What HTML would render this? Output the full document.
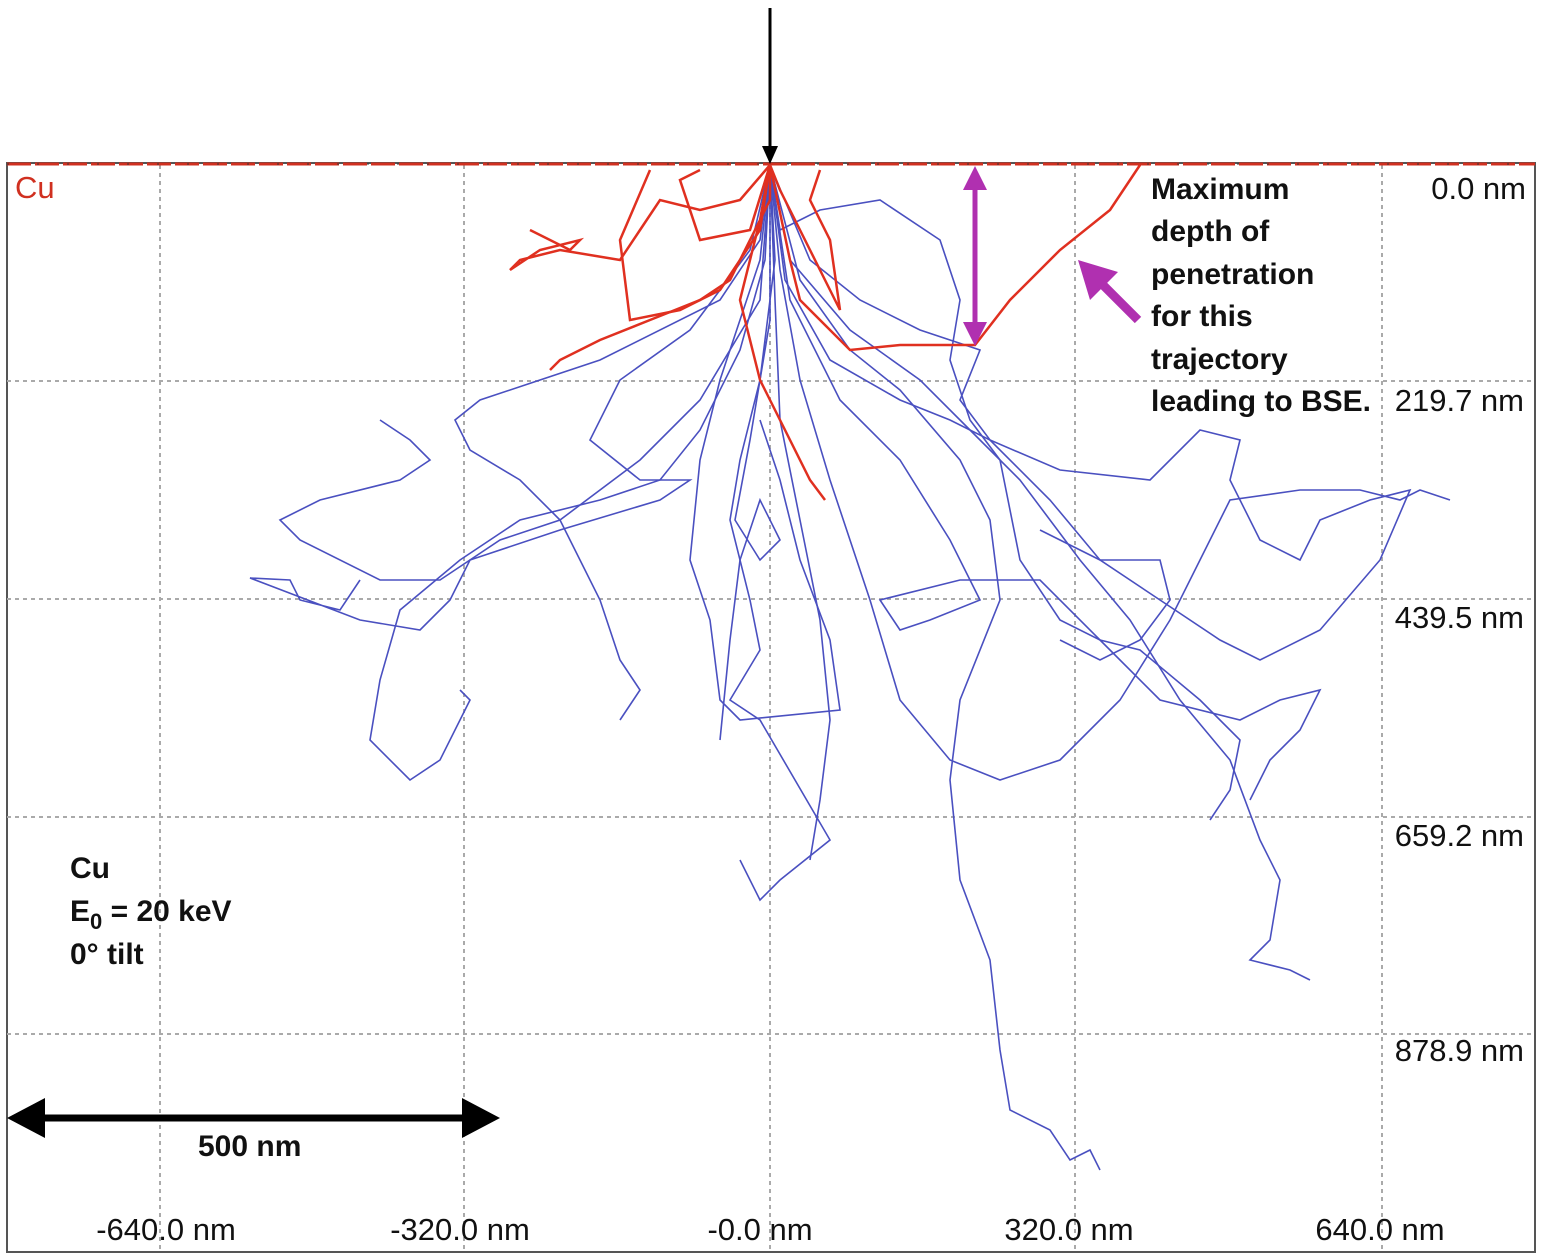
<!DOCTYPE html>
<html><head><meta charset="utf-8"><style>
html,body{margin:0;padding:0;background:#fff;}
svg{display:block;font-family:"Liberation Sans",sans-serif;}
.b{font-weight:bold;font-size:30px;fill:#111;}
.t{font-size:31px;fill:#111;}
</style></head><body>
<svg width="1546" height="1259" viewBox="0 0 1546 1259">
<rect x="7" y="163" width="1528" height="1089" fill="#fff" stroke="#555" stroke-width="2"/>
<g stroke="#aaa" stroke-width="2" stroke-dasharray="4,4" fill="none">
<line x1="160" y1="165" x2="160" y2="1252"/><line x1="464" y1="165" x2="464" y2="1252"/>
<line x1="770" y1="165" x2="770" y2="1252"/><line x1="1075" y1="165" x2="1075" y2="1252"/>
<line x1="1382" y1="165" x2="1382" y2="1252"/>
<line x1="7" y1="381" x2="1535" y2="381"/><line x1="7" y1="599" x2="1535" y2="599"/>
<line x1="7" y1="817" x2="1535" y2="817"/><line x1="7" y1="1034" x2="1535" y2="1034"/>
</g>
<line x1="7" y1="164" x2="1535" y2="164" stroke="#d03020" stroke-width="3" stroke-dasharray="24,4"/>
<line x1="7" y1="164" x2="1535" y2="164" stroke="#333" stroke-width="1" stroke-dasharray="2,28"/>
<g fill="none" stroke="#4a50c0" stroke-width="1.6">
<polyline points="770,165 760,240 720,300 600,360 480,400 455,420 470,450 520,480 560,520 580,560 600,600 620,660 640,690 620,720"/>
<polyline points="770,165 750,250 690,330 620,380 590,440 640,480 690,480 660,500 560,530 470,560 450,600 420,630 360,620 250,578 290,580 300,600 340,610 360,580"/>
<polyline points="770,165 765,260 740,350 700,430 660,480 600,500 520,520 460,560 400,610 380,680 370,740 410,780 440,760 470,700 460,690"/>
<polyline points="770,165 775,260 760,380 740,460 730,520 750,600 760,650 730,700 760,720 830,840 780,880 760,900 740,860"/>
<polyline points="770,165 780,270 800,380 830,480 870,600 900,700 950,760 1000,780 1060,760 1120,700 1170,620 1200,560 1230,500 1300,490 1360,490 1400,500 1420,490 1450,500"/>
<polyline points="770,165 790,260 850,330 920,380 970,430 1020,480 1080,560 1130,620 1180,700 1230,760 1260,840 1280,880 1270,940 1250,960 1290,970 1310,980"/>
<polyline points="770,165 800,280 850,350 900,390 960,460 990,520 1000,600 960,700 950,780 960,880 990,960 1000,1050 1010,1110 1050,1130 1070,1160 1090,1150 1100,1170"/>
<polyline points="770,165 810,260 860,300 920,330 980,350 960,400 990,440 1060,470 1150,480 1200,430 1240,440 1230,480 1260,540 1300,560 1320,520 1370,500 1410,490 1380,560 1320,630 1260,660 1220,640 1160,600 1100,560 1040,530"/>
<polyline points="770,165 780,230 820,210 880,200 940,240 960,300 950,360 970,420 1000,460 1020,560 1060,620 1100,640 1140,650 1200,700 1240,740 1230,790 1210,820"/>
<polyline points="770,165 760,260 720,380 700,460 690,560 710,620 720,700 740,720 840,710 830,640 800,560 780,480 760,420"/>
<polyline points="770,165 790,300 840,400 900,460 950,540 980,600 930,620 900,630 880,600 960,580 1040,580 1100,640 1160,700 1240,720 1280,700 1320,690 1300,730 1270,760 1250,800"/>
<polyline points="770,165 775,300 780,420 800,520 820,620 830,720 820,800 810,860"/>
<polyline points="770,165 760,300 700,400 640,460 560,520 500,540 440,580 380,580 300,540 280,520 320,500 400,480 430,460 410,440 380,420"/>
<polyline points="770,165 785,280 830,360 900,400 950,420 990,440 1050,500 1100,560 1160,560 1170,600 1140,640 1100,660 1060,640"/>
<polyline points="770,165 770,320 750,440 735,520 760,560 780,540 760,500 740,560 730,640 720,740"/>
</g>
<g fill="none" stroke="#e03020" stroke-width="2.5">
<polyline points="770,165 740,200 700,210 660,200 640,230 620,260 560,250 520,260 510,270 540,250 580,240 570,250 530,230"/>
<polyline points="770,165 760,230 720,290 680,310 630,320 620,240 650,170"/>
<polyline points="770,165 770,200 730,280 700,300 650,320 600,340 560,360 550,370"/>
<polyline points="770,165 790,260 800,300 820,320 850,350 900,345 950,345 975,345 1010,300 1060,250 1110,210 1140,165"/>
<polyline points="770,165 760,220 740,300 760,380 790,440 810,480 825,500"/>
<polyline points="770,165 780,190 800,230 820,270 840,310 830,240 810,200 820,170"/>
<polyline points="770,165 750,230 700,240 680,180 700,170"/>
</g>
<line x1="770" y1="8" x2="770" y2="150" stroke="#000" stroke-width="3"/>
<polygon points="762,146 778,146 770,164" fill="#000"/>
<line x1="975" y1="185" x2="975" y2="325" stroke="#b030b0" stroke-width="5"/>
<polygon points="963,190 987,190 975,166" fill="#b030b0"/>
<polygon points="963,322 987,322 975,346" fill="#b030b0"/>
<line x1="1138" y1="320" x2="1100" y2="282" stroke="#b030b0" stroke-width="9"/>
<polygon points="1078,260 1118,272 1090,300" fill="#b030b0"/>
<line x1="30" y1="1118" x2="480" y2="1118" stroke="#000" stroke-width="7"/>
<polygon points="7,1118 45,1098 45,1138" fill="#000"/>
<polygon points="500,1118 462,1098 462,1138" fill="#000"/>
<text x="15" y="198" font-size="31" fill="#d03020">Cu</text>
<text class="b" x="1151" y="199">Maximum</text>
<text class="b" x="1151" y="241">depth of</text>
<text class="b" x="1151" y="284">penetration</text>
<text class="b" x="1151" y="326">for this</text>
<text class="b" x="1151" y="369">trajectory</text>
<text class="b" x="1151" y="411">leading to BSE.</text>
<text class="t" x="1526" y="199" text-anchor="end">0.0 nm</text>
<text class="t" x="1524" y="411" text-anchor="end">219.7 nm</text>
<text class="t" x="1524" y="628" text-anchor="end">439.5 nm</text>
<text class="t" x="1524" y="846" text-anchor="end">659.2 nm</text>
<text class="t" x="1524" y="1061" text-anchor="end">878.9 nm</text>
<text class="b" x="70" y="878">Cu</text>
<text class="b" x="70" y="921">E<tspan font-size="22" dy="8">0</tspan><tspan dy="-8"> = 20 keV</tspan></text>
<text class="b" x="70" y="964">0° tilt</text>
<text class="b" x="198" y="1156">500 nm</text>
<text class="t" x="166" y="1240" text-anchor="middle">-640.0 nm</text>
<text class="t" x="460" y="1240" text-anchor="middle">-320.0 nm</text>
<text class="t" x="760" y="1240" text-anchor="middle">-0.0 nm</text>
<text class="t" x="1069" y="1240" text-anchor="middle">320.0 nm</text>
<text class="t" x="1380" y="1240" text-anchor="middle">640.0 nm</text>
</svg>
</body></html>
